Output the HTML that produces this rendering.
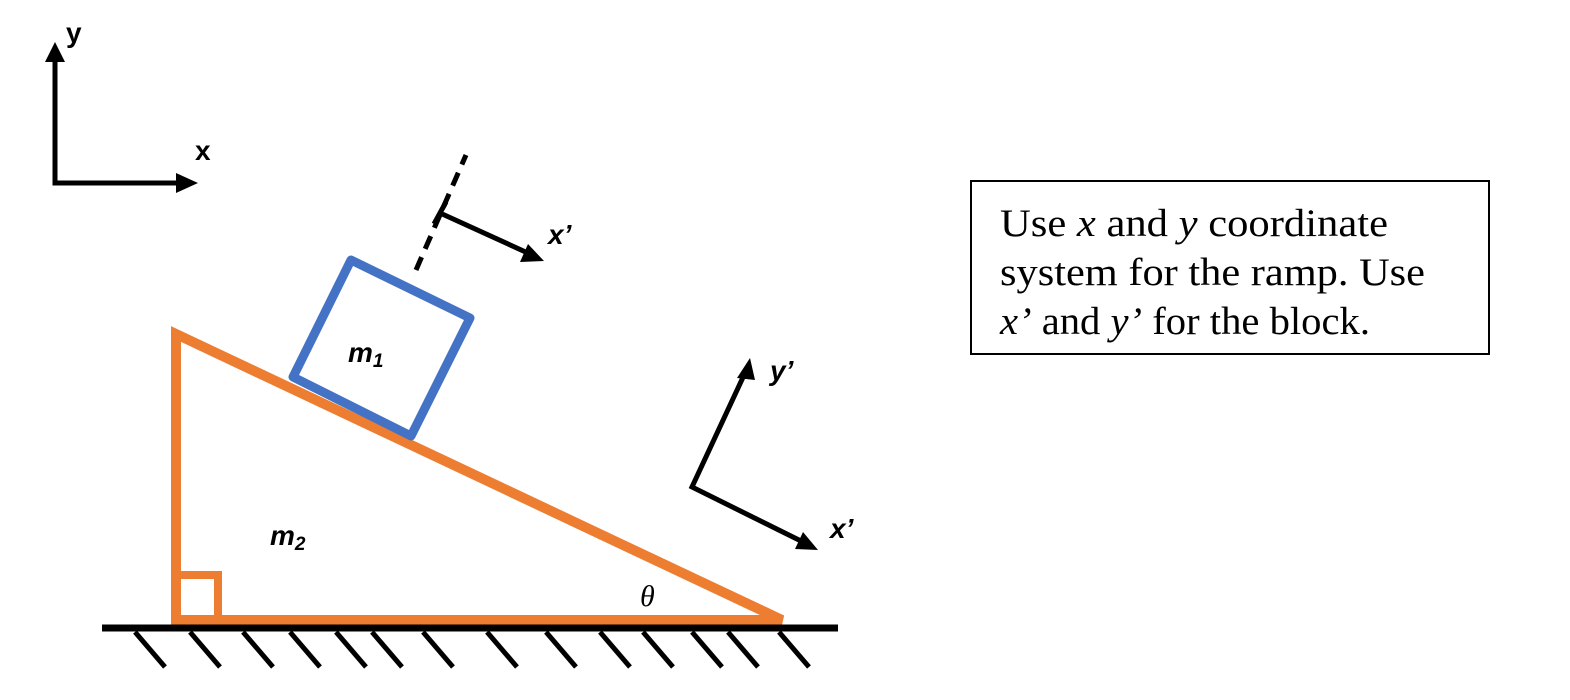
<!DOCTYPE html>
<html><head><meta charset="utf-8"><style>
html,body{margin:0;padding:0;background:#fff;width:1570px;height:700px;overflow:hidden}
</style></head><body>
<svg width="1570" height="700" viewBox="0 0 1570 700" xmlns="http://www.w3.org/2000/svg">
<!-- xy axes -->
<polyline points="55,58 55,183 182,183" fill="none" stroke="#000" stroke-width="5"/>
<polygon points="55,42 45,62 65,62" fill="#000"/>
<polygon points="198,183 176,173 176,193" fill="#000"/>
<text x="66" y="42" font-family="Liberation Sans, sans-serif" font-weight="bold" font-size="28">y</text>
<text x="195" y="160" font-family="Liberation Sans, sans-serif" font-weight="bold" font-size="28">x</text>
<!-- ramp -->
<polygon points="176,334 176,620 782,620" fill="none" stroke="#ED7D31" stroke-width="10" stroke-linejoin="miter"/>
<rect x="176" y="575" width="42" height="45" fill="none" stroke="#ED7D31" stroke-width="8"/>
<!-- ground -->
<line x1="102" y1="628" x2="838" y2="628" stroke="#000" stroke-width="7"/>
<g stroke="#000" stroke-width="5">
<line x1="135" y1="632" x2="165" y2="667"/><line x1="190" y1="632" x2="220" y2="667"/>
<line x1="243" y1="632" x2="273" y2="667"/><line x1="290" y1="632" x2="320" y2="667"/>
<line x1="336" y1="632" x2="366" y2="667"/><line x1="372" y1="632" x2="402" y2="667"/>
<line x1="423" y1="632" x2="453" y2="667"/><line x1="487" y1="632" x2="517" y2="667"/>
<line x1="546" y1="632" x2="576" y2="667"/><line x1="600" y1="632" x2="630" y2="667"/>
<line x1="643" y1="632" x2="673" y2="667"/><line x1="692" y1="632" x2="722" y2="667"/>
<line x1="728" y1="632" x2="758" y2="667"/><line x1="779" y1="632" x2="809" y2="667"/>
</g>
<!-- block -->
<polygon points="351,260 470,318 411,436 293,377" fill="none" stroke="#4472C4" stroke-width="9" stroke-linejoin="round"/>
<text x="348" y="362" font-family="Liberation Sans, sans-serif" font-weight="bold" font-style="italic" font-size="28">m<tspan font-size="19" dy="5">1</tspan></text>
<text x="270" y="545" font-family="Liberation Sans, sans-serif" font-weight="bold" font-style="italic" font-size="28">m<tspan font-size="19" dy="5">2</tspan></text>
<text x="640" y="606" font-family="Liberation Serif, serif" font-style="italic" font-size="30">θ</text>
<!-- dashed + x' -->
<line x1="416" y1="270" x2="466" y2="155" stroke="#000" stroke-width="5" stroke-dasharray="14,9"/>
<line x1="440" y1="213" x2="530" y2="254" stroke="#000" stroke-width="5"/>
<polygon points="544,261 520,262 528,244" fill="#000"/>
<line x1="434" y1="224" x2="446" y2="202" stroke="#000" stroke-width="5"/>
<text x="548" y="244" font-family="Liberation Sans, sans-serif" font-weight="bold" font-style="italic" font-size="28">x’</text>
<!-- right axes -->
<polyline points="745,373 692,487 805,543" fill="none" stroke="#000" stroke-width="5"/>
<polygon points="750,358 737,378 755,380" fill="#000"/>
<polygon points="818,550 795,549 803,532" fill="#000"/>
<text x="770" y="380" font-family="Liberation Sans, sans-serif" font-weight="bold" font-style="italic" font-size="28">y’</text>
<text x="830" y="538" font-family="Liberation Sans, sans-serif" font-weight="bold" font-style="italic" font-size="28">x’</text>
<!-- text box -->
<rect x="971" y="181" width="518" height="173" fill="none" stroke="#000" stroke-width="2"/>
<g font-family="Liberation Serif, serif" font-size="39" fill="#000">
<text x="1000" y="236" textLength="388" lengthAdjust="spacingAndGlyphs">Use <tspan font-style="italic">x</tspan> and <tspan font-style="italic">y</tspan> coordinate</text>
<text x="1000" y="285" textLength="425" lengthAdjust="spacingAndGlyphs">system for the ramp. Use</text>
<text x="1000" y="334" textLength="370" lengthAdjust="spacingAndGlyphs"><tspan font-style="italic">x’</tspan> and <tspan font-style="italic">y’</tspan> for the block.</text>
</g>
</svg>
</body></html>
